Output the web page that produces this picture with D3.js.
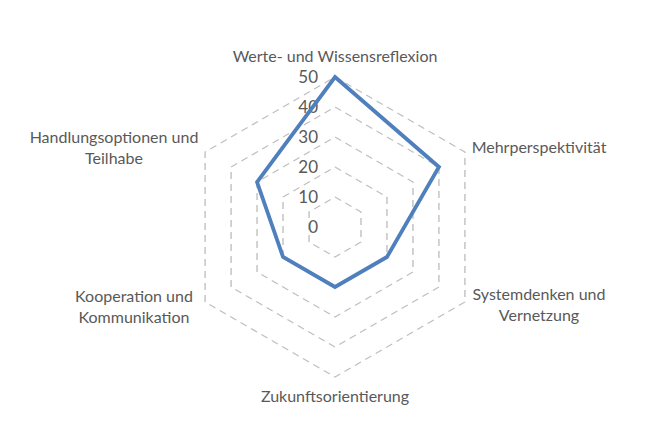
<!DOCTYPE html>
<html>
<head>
<meta charset="utf-8">
<script src="https://cdn.jsdelivr.net/npm/d3@7"></script>
<style>
  body { margin: 0; background: #fff; }
  text { font-family: Lato, "Open Sans", sans-serif; fill: #595959; }
</style>
</head>
<body>
<svg id="chart" width="659" height="433"></svg>
<script>
// categories, clockwise from top
var categories = [
  ["Werte- und Wissensreflexion"],
  ["Mehrperspektivität"],
  ["Systemdenken und", "Vernetzung"],
  ["Zukunftsorientierung"],
  ["Kooperation und", "Kommunikation"],
  ["Handlungsoptionen und", "Teilhabe"]
]
var values = [50, 40, 20, 20, 20, 30]
var ticks = [0, 10, 20, 30, 40, 50]

var cx = 335, cy = 227
var r = d3.scaleLinear().domain([0, 50]).range([0, 150])
var n = categories.length
var angle = d3.scaleLinear().domain([0, n]).range([0, 2 * Math.PI])

var svg = d3.select("#chart")
var g = svg.append("g").attr("transform", `translate(${cx},${cy})`)

var radial = d3.lineRadial()
  .angle((d, i) => angle(i))
  .curve(d3.curveLinearClosed)

// grid rings
g.selectAll(".ring")
  .data(ticks.filter(t => t > 0))
  .join("path")
  .attr("class", "ring")
  .attr("d", t => radial.radius(() => r(t))(d3.range(n)))
  .attr("fill", "none")
  .attr("stroke", "#c0c0c0")
  .attr("stroke-width", 1.4)
  .attr("stroke-dasharray", "7,5")
  .attr("stroke-linejoin", "round")

// tick labels along top axis
g.selectAll(".tick")
  .data(ticks)
  .join("text")
  .attr("class", "tick")
  .attr("x", -17)
  .attr("y", t => -r(t))
  .attr("dy", "0.35em")
  .attr("text-anchor", "end")
  .style("font-size", "17px")
  .text(t => t)

// data line
g.append("path")
  .datum(values)
  .attr("d", radial.radius(v => r(v)))
  .attr("fill", "none")
  .attr("stroke", "#4f7fbc")
  .attr("stroke-width", 3.8)
  .attr("stroke-linejoin", "miter")

// category labels
var labelPos = [
  {x: 0, y: -165},
  {x: 204, y: -74},
  {x: 204, y: 73},
  {x: 0, y: 175},
  {x: -201, y: 75},
  {x: -221, y: -84}
]
g.selectAll(".cat")
  .data(categories)
  .join("text")
  .attr("class", "cat")
  .attr("text-anchor", "middle")
  .style("font-size", "16px")
  .attr("transform", (d, i) => `translate(${labelPos[i].x},${labelPos[i].y})`)
  .selectAll("tspan")
  .data(d => d)
  .join("tspan")
  .attr("x", 0)
  .attr("dy", (d, i) => i === 0 ? 0 : 21)
  .text(d => d)
</script>
</body>
</html>
